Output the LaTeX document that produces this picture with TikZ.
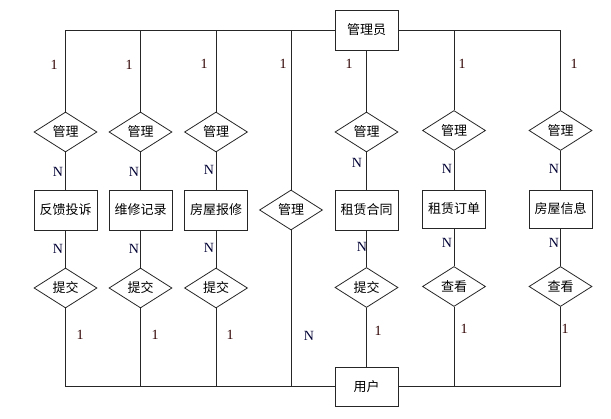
\documentclass[tikz,border=0pt]{standalone}
\usepackage{fontspec}
\setmainfont{Liberation Serif}
\newfontfamily\cjk{Noto Sans CJK SC}
\usetikzlibrary{shapes.geometric}
\tikzset{
  conn/.style={draw=black!85, line width=0.8pt},
  ent/.style={draw=black!85, line width=0.9pt, rectangle, minimum width=63pt, minimum height=40pt, inner sep=0pt, font=\cjk\fontsize{13}{13}\selectfont},
  rel/.style={draw=black!85, line width=0.8pt, diamond, aspect=1.575, minimum width=63pt, minimum height=40pt, inner sep=0pt, font=\cjk\fontsize{13}{13}\selectfont},
  one/.style={font=\fontsize{14}{14}\selectfont, text=black!70!red!60!black, inner sep=0pt},
  many/.style={font=\fontsize{14}{14}\selectfont, text=black!80!blue, inner sep=0pt}
}
\begin{document}
\begin{tikzpicture}[x=1pt,y=-1pt]
\useasboundingbox (0,0) rectangle (611,419);
% entities
\node[ent] (admin) at (366.5,30) {管理员};
\node[ent, minimum height=39pt] (user) at (366.5,386.5) {用户};
\node[ent] (e1) at (65.5,210) {反馈投诉};
\node[ent] (e2) at (140.5,210) {维修记录};
\node[ent] (e3) at (216,210) {房屋报修};
\node[ent] (e5) at (366.5,210) {租赁合同};
\node[ent, minimum height=38pt] (e6) at (454,209) {租赁订单};
\node[ent, minimum height=38pt] (e7) at (560.5,209) {房屋信息};
% top relations
\node[rel] (m1) at (65.5,132) {管理};
\node[rel] (m2) at (140.5,132) {管理};
\node[rel] (m3) at (216,132) {管理};
\node[rel] (m4) at (291,210) {管理};
\node[rel] (m5) at (366.5,132) {管理};
\node[rel] (m6) at (454,130.5) {管理};
\node[rel] (m7) at (560.5,130.5) {管理};
% bottom relations
\node[rel] (s1) at (65.5,288) {提交};
\node[rel] (s2) at (140.5,288) {提交};
\node[rel] (s3) at (216,288) {提交};
\node[rel] (s5) at (366.5,287.5) {提交};
\node[rel] (s6) at (454,286.5) {查看};
\node[rel] (s7) at (560.5,286.5) {查看};
% connectors to admin
\draw[conn] (m1.north) |- (admin.west);
\draw[conn] (m2.north) |- (admin.west);
\draw[conn] (m3.north) |- (admin.west);
\draw[conn] (m4.north) |- (admin.west);
\draw[conn] (admin.south) -- (m5.north);
\draw[conn] (m6.north) |- (admin.east);
\draw[conn] (m7.north) |- (admin.east);
% relation to entity
\foreach \i in {1,2,3,5,6,7} {
  \draw[conn] (m\i.south) -- (e\i.north);
  \draw[conn] (e\i.south) -- (s\i.north);
}
% to user
\draw[conn] (s1.south) |- (user.west);
\draw[conn] (s2.south) |- (user.west);
\draw[conn] (s3.south) |- (user.west);
\draw[conn] (m4.south) |- (user.west);
\draw[conn] (s5.south) -- (user.north);
\draw[conn] (s6.south) |- (user.east);
\draw[conn] (s7.south) |- (user.east);
% cardinality labels
\node[one] (a1) at (54,65) {1};
\node[one] (a2) at (129,65) {1};
\node[one] (a3) at (204,64) {1};
\node[one] (a4) at (283,64) {1};
\node[one] (a5) at (349,64) {1};
\node[one] (a6) at (462,64) {1};
\node[one] (a7) at (574,64) {1};
\node[many] (b1) at (58,172) {N};
\node[many] (b2) at (134,172) {N};
\node[many] (b3) at (209,170) {N};
\node[many] (b5) at (357,163) {N};
\node[many] (b6) at (447,169) {N};
\node[many] (b7) at (554,169) {N};
\node[many] (c1) at (58,249) {N};
\node[many] (c2) at (134,249) {N};
\node[many] (c3) at (209,248) {N};
\node[many] (c5) at (362,247) {N};
\node[many] (c6) at (447,243) {N};
\node[many] (c7) at (554,243) {N};
\node[one] (d1) at (80,335) {1};
\node[one] (d2) at (155,335) {1};
\node[one] (d3) at (230,335) {1};
\node[one] (d5) at (378,331) {1};
\node[one] (d6) at (464,329) {1};
\node[one] (d7) at (565,329) {1};
\node[many] (d4) at (309,336) {N};
\end{tikzpicture}
\end{document}
